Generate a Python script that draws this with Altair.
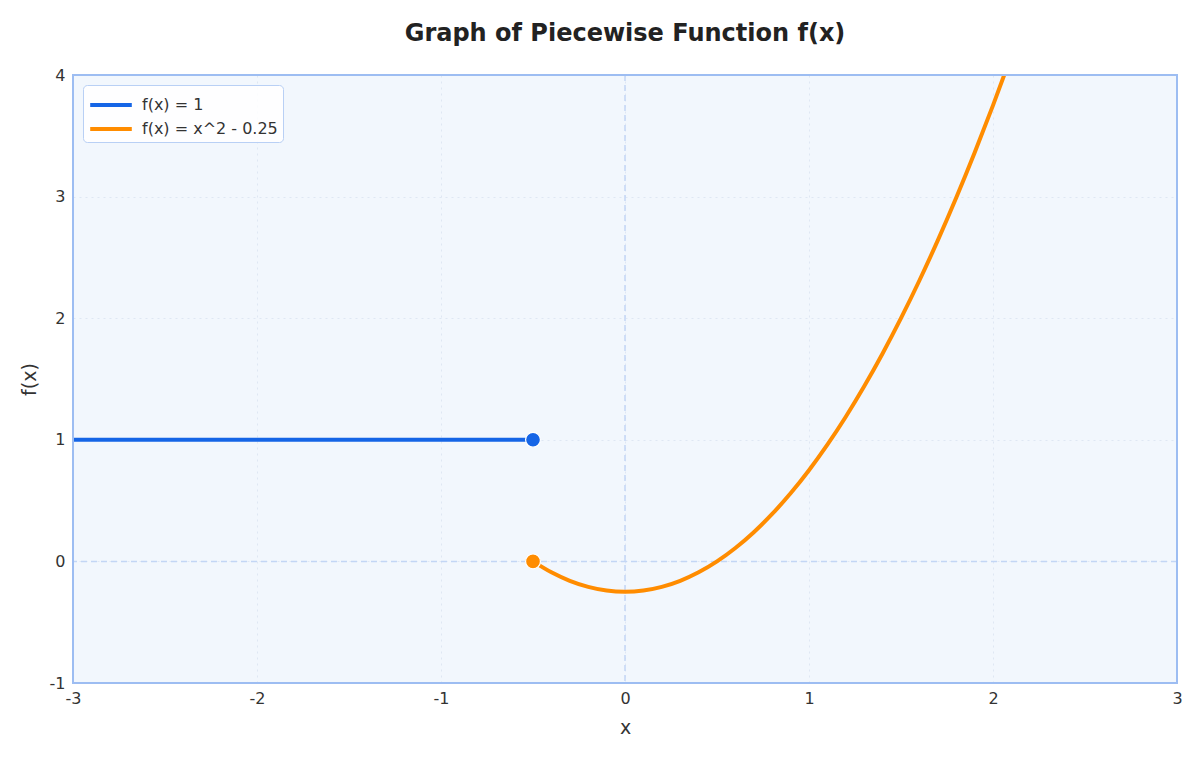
import altair as alt
import pandas as pd

series_names = ["f(x) = 1", "f(x) = x^2 - 0.25"]
colors = ["#1565e6", "#ff8c00"]

const_x = [-3.0, -0.5]
const_y = [1.0, 1.0]

quad_x = [-0.5, -0.4, -0.3, -0.2, -0.1, 0.0, 0.1, 0.2, 0.3, 0.4, 0.5, 0.6, 0.7,
          0.8, 0.9, 1.0, 1.1, 1.2, 1.3, 1.4, 1.5, 1.6, 1.7, 1.8, 1.9, 2.0, 2.1]
quad_y = [0.0, -0.09, -0.16, -0.21, -0.24, -0.25, -0.24, -0.21, -0.16, -0.09, 0.0,
          0.11, 0.24, 0.39, 0.56, 0.75, 0.96, 1.19, 1.44, 1.71, 2.0, 2.31, 2.64,
          2.99, 3.36, 3.75, 4.16]

end_x = [-0.5, -0.5]
end_y = [1.0, 0.0]

x_ticks = [-3, -2, -1, 0, 1, 2, 3]
y_ticks = [-1, 0, 1, 2, 3, 4]

lines = pd.DataFrame({
    "x": const_x + quad_x,
    "y": const_y + quad_y,
    "series": [series_names[0]] * len(const_x) + [series_names[1]] * len(quad_x),
})
points = pd.DataFrame({"x": end_x, "y": end_y, "series": series_names})
zero_x = pd.DataFrame({"x": [0]})
zero_y = pd.DataFrame({"y": [0]})

FONT = "DejaVu Sans"
xs = alt.Scale(domain=[-3, 3], nice=False, zero=False)
ys = alt.Scale(domain=[-1, 4], nice=False, zero=False)
cs = alt.Scale(domain=series_names, range=colors)

grid_axis = dict(grid=True, gridColor="#dfe7f3", gridDash=[2, 4], gridWidth=1,
                 domain=False, ticks=False, labelFont=FONT, labelFontSize=16,
                 labelColor="#333333", titleFont=FONT, titleFontSize=19,
                 titleFontWeight="normal", titleColor="#333333",
                 labelFlush=False, format="d", labelExpr="replace(datum.label, '−', '-')")

vx = alt.Chart(zero_x).mark_rule(color="#c3d6f5", strokeDash=[6, 4], strokeWidth=1.5).encode(
    x=alt.X("x:Q", scale=xs))
hy = alt.Chart(zero_y).mark_rule(color="#c3d6f5", strokeDash=[6, 4], strokeWidth=1.5).encode(
    y=alt.Y("y:Q", scale=ys))

line = alt.Chart(lines).mark_line(strokeWidth=4, clip=True, interpolate="monotone").encode(
    x=alt.X("x:Q", scale=xs, title="x",
            axis=alt.Axis(values=x_ticks, labelPadding=7, titlePadding=12, **grid_axis)),
    y=alt.Y("y:Q", scale=ys, title="f(x)",
            axis=alt.Axis(values=y_ticks, labelPadding=8, titlePadding=10, **grid_axis)),
    color=alt.Color("series:N", scale=cs, title=None,
                    legend=alt.Legend(orient="none", legendX=10, legendY=10,
                                      symbolType="M-1.6,0H1.6", symbolStrokeWidth=4,
                                      symbolSize=676, symbolOffset=8,
                                      labelFont=FONT, labelFontSize=16,
                                      labelColor="#333333", fillColor="#ffffffdd",
                                      strokeColor="#b9d0f5", cornerRadius=4,
                                      padding=5, rowPadding=1, labelOffset=16)),
    detail="series:N",
)

pts = alt.Chart(points).mark_point(filled=True, size=220, opacity=1, stroke="white",
                                   strokeWidth=1.2).encode(
    x=alt.X("x:Q", scale=xs),
    y=alt.Y("y:Q", scale=ys),
    color=alt.Color("series:N", scale=cs, legend=None),
)

frame = alt.Chart(zero_x).mark_rect(fill=None, stroke="#9dbdf2", strokeWidth=2).encode(
    x=alt.value(0), x2=alt.value(1104), y=alt.value(0), y2=alt.value(608))

chart = alt.layer(vx, hy, line, pts, frame).properties(
    width=1104, height=608,
    title=alt.Title("Graph of Piecewise Function f(x)", font=FONT, fontSize=24,
                    fontWeight="bold", color="#222222", offset=21),
    autosize=alt.AutoSizeParams(type="none"),
    padding={"left": 65, "top": 67, "right": 15, "bottom": 60},
).configure_view(fill="#f2f7fd", stroke=None)

chart.save("out.html", embed_options={"renderer": "svg", "actions": False})
